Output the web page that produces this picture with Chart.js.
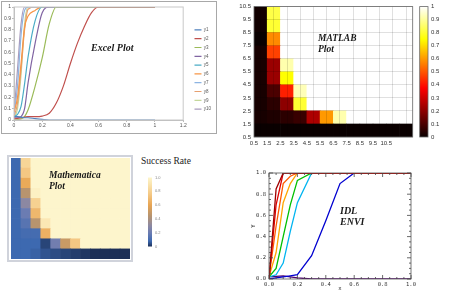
<!DOCTYPE html>
<html>
<head>
<meta charset="utf-8">
<title>Success rate plots</title>
<script src="https://cdn.jsdelivr.net/npm/chart.js"></script>
<style>
  body { margin: 0; background: #fff; }
  #page { position: relative; width: 474px; height: 300px; overflow: hidden; background: #fff; }
  canvas, .frame, .note, .label { position: absolute; }
  .frame { box-sizing: border-box; }
  .note { font-family: "Liberation Serif", "DejaVu Serif", serif; font-weight: bold; font-style: italic; color: #1a1a1a; line-height: 11px; white-space: nowrap; }
  .label { font-family: "Liberation Serif", "DejaVu Serif", serif; color: #222; white-space: nowrap; }
</style>
</head>
<body>
<div id="page">
  <div class="frame" style="left:1px;top:1px;width:216px;height:133px;border:1px solid #a8a8a8;"></div>
  <canvas id="excel" width="219" height="130" style="left:2px;top:2px;"></canvas>
  <canvas id="matlab" width="180" height="150" style="left:237px;top:0px;"></canvas>
  <canvas id="matlabBar" width="30" height="150" style="left:417px;top:0px;"></canvas>
  <div class="frame" style="left:7px;top:155px;width:126px;height:107px;border:2px solid #d0d3db;"></div>
  <canvas id="mma" width="119" height="101" style="left:11px;top:158px;"></canvas>
  <div class="label" style="left:141px;top:156px;font-size:9.5px;">Success Rate</div>
  <canvas id="mmaBar" width="22" height="80" style="left:146px;top:172px;"></canvas>
  <canvas id="idl" width="237" height="150" style="left:237px;top:150px;"></canvas>

  <div class="note" style="left:91px;top:42px;font-size:10px;">Excel Plot</div>
  <div class="note" style="left:318px;top:33px;font-size:9.5px;">MATLAB<br>Plot</div>
  <div class="note" style="left:49px;top:170px;font-size:9.5px;">Mathematica<br>Plot</div>
  <div class="note" style="left:340px;top:205px;font-size:10px;">IDL<br>ENVI</div>
</div>
<script>
// ---- Excel panel: success rate curves ----
var excelX = [0, 0.025, 0.05, 0.075, 0.1, 0.15, 0.2, 0.25, 0.3, 0.35, 0.4, 0.45, 0.5, 0.55, 0.6, 0.8, 1.0];
var excelNames = ['y1', 'y2', 'y3', 'y4', 'y5', 'y6', 'y7', 'y8', 'y9', 'y10'];
var y1  = [0.03, 0.03, 0.025, 0.02, 0.02, 0.012, 0.005, 0, 0, 0, 0, 0, 0, 0, 0, 0, 0];
var y2  = [0.01, 0.015, 0.02, 0.025, 0.03, 0.03, 0.035, 0.06, 0.15, 0.3, 0.5, 0.68, 0.83, 0.95, 1, 1, 1];
var y3  = [0, 0.005, 0.01, 0.03, 0.09, 0.3, 0.55, 0.85, 1, 1, 1, 1, 1, 1, 1, 1, 1];
var y4  = [0.02, 0.02, 0.03, 0.1, 0.33, 0.68, 0.95, 1, 1, 1, 1, 1, 1, 1, 1, 1, 1];
var y5  = [0.03, 0.05, 0.12, 0.32, 0.56, 0.88, 1, 1, 1, 1, 1, 1, 1, 1, 1, 1, 1];
var y6  = [0.07, 0.2, 0.5, 0.82, 0.92, 0.97, 1, 1, 1, 1, 1, 1, 1, 1, 1, 1, 1];
var y7  = [0.05, 0.3, 0.75, 0.97, 1, 1, 1, 1, 1, 1, 1, 1, 1, 1, 1, 1, 1];
var y8  = [0.03, 0.15, 0.45, 0.8, 0.98, 1, 1, 1, 1, 1, 1, 1, 1, 1, 1, 1, 1];
var y9  = [0.02, 0.1, 0.4, 0.85, 1, 1, 1, 1, 1, 1, 1, 1, 1, 1, 1, 1, 1];
var y10 = [0.05, 0.45, 0.85, 1, 1, 1, 1, 1, 1, 1, 1, 1, 1, 1, 1, 1, 1];
var excelSeries = [y1, y2, y3, y4, y5, y6, y7, y8, y9, y10];

// ---- MATLAB / Mathematica heatmaps (rows bottom -> top, 12 columns) ----
var matlabRows = [
    [0, 0, 0, 0, 0, 0, 0, 0, 0, 0, 0, 0],
    [0.02, 0.03, 0.05, 0.07, 0.25, 0.6, 0.92, 1, 1, 1, 1, 1],
    [0.02, 0.05, 0.2, 0.8, 1, 1, 1, 1, 1, 1, 1, 1],
    [0.02, 0.1, 0.42, 0.93, 1, 1, 1, 1, 1, 1, 1, 1],
    [0.02, 0.22, 0.75, 1, 1, 1, 1, 1, 1, 1, 1, 1],
    [0.02, 0.22, 0.92, 1, 1, 1, 1, 1, 1, 1, 1, 1],
    [0.02, 0.47, 1, 1, 1, 1, 1, 1, 1, 1, 1, 1],
    [0, 0.58, 1, 1, 1, 1, 1, 1, 1, 1, 1, 1],
    [0.01, 0.8, 1, 1, 1, 1, 1, 1, 1, 1, 1, 1],
    [0.01, 0.82, 1, 1, 1, 1, 1, 1, 1, 1, 1, 1]
];
var mmaRows = [
    [0.08, 0.08, 0.07, 0.05, 0.04, 0.03, 0.02, 0.01, 0, 0, 0, 0],
    [0.08, 0.08, 0.08, 0.03, 0.22, 0.5, 0.75, 1, 1, 1, 1, 1],
    [0.08, 0.1, 0.1, 0.65, 1, 1, 1, 1, 1, 1, 1, 1],
    [0.08, 0.15, 0.45, 0.92, 1, 1, 1, 1, 1, 1, 1, 1],
    [0.08, 0.2, 0.68, 1, 1, 1, 1, 1, 1, 1, 1, 1],
    [0.08, 0.3, 0.8, 1, 1, 1, 1, 1, 1, 1, 1, 1],
    [0.08, 0.45, 0.97, 1, 1, 1, 1, 1, 1, 1, 1, 1],
    [0.08, 0.62, 1, 1, 1, 1, 1, 1, 1, 1, 1, 1],
    [0.08, 0.75, 1, 1, 1, 1, 1, 1, 1, 1, 1, 1],
    [0.08, 0.82, 1, 1, 1, 1, 1, 1, 1, 1, 1, 1]
];
var matXTicks = [0.5, 1.5, 2.5, 3.5, 4.5, 5.5, 6.5, 7.5, 8.5, 9.5, 10.5, 11.5];
var matXLabels = ['0.5', '1.5', '2.5', '3.5', '4.5', '5.5', '6.5', '7.5', '8.5', '9.5', '10.5', ''];
var matYTicks = [0.5, 1.5, 2.5, 3.5, 4.5, 5.5, 6.5, 7.5, 8.5, 9.5, 10.5];

// ---- IDL panel ----
var idlX = [0, 0.05, 0.1, 0.15, 0.2, 0.3, 0.4, 0.5, 0.6, 1.0];
var idlDarkRed = [0, 0.85, 1, 1, 1, 1, 1, 1, 1, 1];
var idlRed     = [0, 0.7, 1, 1, 1, 1, 1, 1, 1, 1];
var idlOrRed   = [0.02, 0.5, 0.9, 0.97, 1, 1, 1, 1, 1, 1];
var idlOrange  = [0.02, 0.25, 0.72, 0.9, 1, 1, 1, 1, 1, 1];
var idlGreen   = [0.02, 0.1, 0.4, 0.7, 0.93, 1, 1, 1, 1, 1];
var idlCyan    = [0.02, 0.04, 0.15, 0.45, 0.72, 1, 1, 1, 1, 1];
var idlBlue    = [0, 0.01, 0.02, 0.03, 0.04, 0.22, 0.55, 0.9, 1, 1];
var idlPurple  = [0.02, 0.025, 0.03, 0.02, 0.01, 0, 0, 0, 0, 0];
var idlSeries = [idlDarkRed, idlRed, idlOrRed, idlOrange, idlGreen, idlCyan, idlBlue, idlPurple];

// colours
var excelColors = ['#4F81BD', '#C0504D', '#9BBB59', '#8064A2', '#4BACC6', '#F79646', '#8DB4E2', '#E6A070', '#C4D79B', '#A99BBD'];
var idlColors = ['#a00000', '#e00000', '#ff5a00', '#ffa500', '#00c000', '#00b4f0', '#0000d0', '#50006e'];
var hotStops = [[0, '#0a0000'], [0.375, '#ff0000'], [0.75, '#ffff00'], [1, '#ffffff']];
var mmaStops = [[0, '#1c2f57'], [0.08, '#3d69b0'], [0.2, '#6b7cb2'], [0.3, '#8c88a2'], [0.45, '#b8946e'],
                [0.6, '#e8a553'], [0.75, '#f4c783'], [0.9, '#fae4ae'], [1, '#fdf5cc']];

Chart.defaults.font.family = '"Liberation Sans", Arial, sans-serif';
Chart.defaults.animation = false;
Chart.defaults.responsive = false;
Chart.defaults.plugins.tooltip.enabled = false;

function hexToRgb(h) {
    return [parseInt(h.substr(1, 2), 16), parseInt(h.substr(3, 2), 16), parseInt(h.substr(5, 2), 16)];
}

function colorFromStops(stops) {
    return function (v) {
        for (var i = 1; i < stops.length; i++) {
            if (v <= stops[i][0]) {
                var a = stops[i - 1], b = stops[i];
                var t = (v - a[0]) / (b[0] - a[0]);
                var ca = hexToRgb(a[1]), cb = hexToRgb(b[1]);
                var c = ca.map(function (x, k) { return Math.round(x + (cb[k] - x) * t); });
                return 'rgb(' + c.join(',') + ')';
            }
        }
        return stops[stops.length - 1][1];
    };
}

function barGradient(stops) {
    return function (c) {
        var area = c.chart.chartArea;
        if (!area) return stops[0][1];
        var g = c.chart.ctx.createLinearGradient(0, area.bottom, 0, area.top);
        stops.forEach(function (s) { g.addColorStop(s[0], s[1]); });
        return g;
    };
}

// "0", "0.1" ... "1" like Excel / MATLAB
function shortNum(v) { return String(Math.round(v * 10) / 10); }

// one floating-bar dataset per heatmap row
function heatDatasets(rows, colorFn) {
    return rows.map(function (vals, r) {
        return {
            data: vals.map(function (v, c) { return { x: c + 1, y: [r + 0.5, r + 1.5] }; }),
            backgroundColor: vals.map(colorFn),
            borderWidth: 0,
            grouped: false,
            barPercentage: 1,
            categoryPercentage: 1
        };
    });
}

// box round the plot area
var frameBox = {
    id: 'frameBox',
    afterDraw: function (chart, args, opts) {
        if (!opts.color) return;
        var a = chart.chartArea, ctx = chart.ctx;
        ctx.save();
        ctx.strokeStyle = opts.color;
        ctx.lineWidth = opts.width || 1;
        ctx.strokeRect(a.left, a.top, a.right - a.left, a.bottom - a.top);
        ctx.restore();
    }
};

// IDL style inward ticks on all four sides
var idlTicks = {
    id: 'idlTicks',
    afterDraw: function (chart) {
        var a = chart.chartArea, ctx = chart.ctx;
        var xs = chart.scales.x, ys = chart.scales.y;
        ctx.save();
        ctx.strokeStyle = '#444';
        ctx.lineWidth = 0.8;
        ctx.beginPath();
        for (var i = 0; i <= 20; i++) {
            var len = (i % 4 === 0) ? 4 : 2;
            var px = xs.getPixelForValue(i / 20), py = ys.getPixelForValue(i / 20);
            ctx.moveTo(px, a.bottom); ctx.lineTo(px, a.bottom - len);
            ctx.moveTo(px, a.top); ctx.lineTo(px, a.top + len);
            ctx.moveTo(a.left, py); ctx.lineTo(a.left + len, py);
            ctx.moveTo(a.right, py); ctx.lineTo(a.right - len, py);
        }
        ctx.stroke();
        ctx.restore();
    }
};

var noGrid = { display: false, drawTicks: false };

// ---------- Excel ----------
new Chart(document.getElementById('excel'), {
    type: 'line',
    data: {
        datasets: excelSeries.map(function (s, i) {
            return {
                label: excelNames[i],
                data: s.map(function (v, k) { return { x: excelX[k], y: v }; }),
                borderColor: excelColors[i],
                backgroundColor: excelColors[i],
                borderWidth: 1.2,
                pointRadius: 0,
                cubicInterpolationMode: 'monotone'
            };
        })
    },
    options: {
        layout: { padding: { top: 5 } },
        plugins: {
            legend: {
                position: 'right',
                labels: { usePointStyle: true, pointStyle: 'line', pointStyleWidth: 7, padding: 4.3, color: '#555', font: { size: 4.5 } }
            },
            frameBox: { color: '#c8c8c8' }
        },
        scales: {
            x: {
                type: 'linear', min: 0, max: 1.2,
                ticks: { stepSize: 0.2, color: '#555', font: { size: 5 }, padding: 1, maxRotation: 0, callback: shortNum },
                grid: { drawOnChartArea: false, tickLength: 2, color: '#bbb' },
                border: { color: '#bbb' },
                afterFit: function (s) { s.height = 12; }
            },
            y: {
                min: 0, max: 1,
                ticks: { stepSize: 0.1, color: '#555', font: { size: 5 }, padding: 1, callback: shortNum },
                grid: { drawOnChartArea: false, tickLength: 2, color: '#bbb' },
                border: { color: '#bbb' },
                afterFit: function (s) { s.width = 12; }
            },
            y2: {
                position: 'right', display: true,
                ticks: { display: false }, grid: noGrid, border: { display: false },
                afterFit: function (s) { s.width = 7; }
            }
        }
    },
    plugins: [frameBox]
});

// ---------- MATLAB ----------
var hot = colorFromStops(hotStops);
new Chart(document.getElementById('matlab'), {
    type: 'bar',
    data: { datasets: heatDatasets(matlabRows, hot) },
    options: {
        layout: { padding: { top: 3, right: 4.3 } },
        plugins: { legend: { display: false }, frameBox: { color: '#666', width: 0.8 } },
        scales: {
            x: {
                type: 'linear', min: 0.5, max: 12.5, offset: false,
                afterBuildTicks: function (s) { s.ticks = matXTicks.map(function (v) { return { value: v }; }); },
                ticks: {
                    autoSkip: false, maxRotation: 0, color: '#333', font: { size: 6 }, padding: 3,
                    callback: function (v, i) { return matXLabels[i]; }
                },
                grid: { color: 'rgba(0,0,0,0.12)', z: 1, drawTicks: false },
                border: { display: false },
                afterFit: function (s) { s.height = 13; }
            },
            y: {
                type: 'linear', min: 0.5, max: 10.5,
                afterBuildTicks: function (s) { s.ticks = matYTicks.map(function (v) { return { value: v }; }); },
                ticks: { autoSkip: false, color: '#333', font: { size: 6 }, padding: 3 },
                grid: { color: 'rgba(0,0,0,0.12)', z: 1, drawTicks: false },
                border: { display: false },
                afterFit: function (s) { s.width = 17; }
            }
        }
    },
    plugins: [frameBox]
});

new Chart(document.getElementById('matlabBar'), {
    type: 'bar',
    data: { labels: [''], datasets: [{ data: [[0, 1]], backgroundColor: barGradient(hotStops), borderWidth: 0, barPercentage: 1, categoryPercentage: 1 }] },
    options: {
        layout: { padding: { left: 2.7, top: 3, bottom: 13 } },
        plugins: { legend: { display: false }, frameBox: { color: '#666', width: 0.8 } },
        scales: {
            x: { display: false },
            y: {
                position: 'right', min: 0, max: 1,
                ticks: { stepSize: 0.1, color: '#333', font: { size: 6 }, padding: 3, callback: shortNum },
                grid: noGrid, border: { display: false },
                afterFit: function (s) { s.width = 19; }
            }
        }
    },
    plugins: [frameBox]
});

// ---------- Mathematica ----------
var mmaColor = colorFromStops(mmaStops);
new Chart(document.getElementById('mma'), {
    type: 'bar',
    data: { datasets: heatDatasets(mmaRows, mmaColor) },
    options: {
        plugins: { legend: { display: false } },
        scales: {
            x: { type: 'linear', min: 0.5, max: 12.5, offset: false, display: false },
            y: { type: 'linear', min: 0.5, max: 10.5, display: false }
        }
    }
});

new Chart(document.getElementById('mmaBar'), {
    type: 'bar',
    data: { labels: [''], datasets: [{ data: [[0, 1]], backgroundColor: barGradient(mmaStops), borderWidth: 0, barPercentage: 1, categoryPercentage: 1 }] },
    options: {
        layout: { padding: { left: 2, top: 4, bottom: 5 } },
        plugins: { legend: { display: false } },
        scales: {
            x: { display: false },
            y: {
                position: 'right', min: 0, max: 1,
                ticks: { stepSize: 0.2, color: '#888', font: { size: 4 }, padding: 3,
                         callback: function (v) { return v === 0 ? '0' : v.toFixed(1); } },
                grid: noGrid, border: { display: false },
                afterFit: function (s) { s.width = 16; }
            }
        }
    }
});

// ---------- IDL ----------
var idlFont = { family: '"DejaVu Sans Mono", monospace', size: 5.5 };
new Chart(document.getElementById('idl'), {
    type: 'line',
    data: {
        datasets: idlSeries.map(function (s, i) {
            return {
                data: s.map(function (v, k) { return { x: idlX[k], y: v }; }),
                borderColor: idlColors[i],
                borderWidth: 1.3,
                pointRadius: 0,
                tension: 0
            };
        })
    },
    options: {
        layout: { padding: { top: 23, right: 63, left: 13, bottom: 8 } },
        plugins: { legend: { display: false }, frameBox: { color: '#555', width: 0.8 } },
        scales: {
            x: {
                type: 'linear', min: 0, max: 1,
                ticks: { stepSize: 0.2, color: '#333', font: idlFont, padding: 2, maxRotation: 0,
                         callback: function (v) { return v.toFixed(1); } },
                title: { display: true, text: 'x', color: '#333', font: idlFont, padding: 0 },
                grid: noGrid, border: { display: false },
                afterFit: function (s) { s.height = 13; }
            },
            y: {
                min: 0, max: 1,
                ticks: { stepSize: 0.2, color: '#333', font: idlFont, padding: 3,
                         callback: function (v) { return v.toFixed(1); } },
                title: { display: true, text: 'Y', color: '#333', font: idlFont, padding: 0 },
                grid: noGrid, border: { display: false },
                afterFit: function (s) { s.width = 19; }
            }
        }
    },
    plugins: [frameBox, idlTicks]
});
</script>
</body>
</html>
